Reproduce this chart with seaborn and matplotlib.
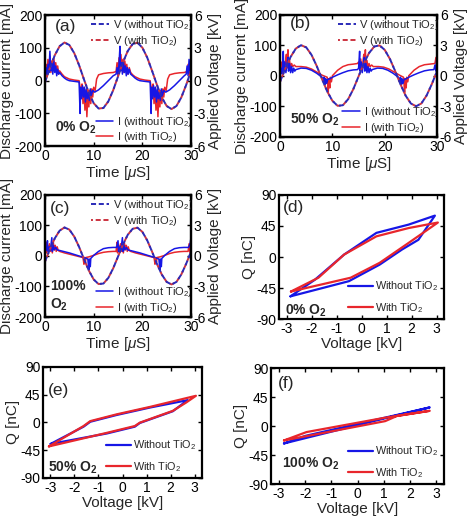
import matplotlib
matplotlib.use("Agg")
import matplotlib.pyplot as plt
import seaborn as sns

# ---------------- data ----------------
# applied voltage, kV, sampled every 1 us
t_volt = [0, 1, 2, 3, 4, 5, 6, 7, 8, 9, 10, 11, 12, 13, 14, 15, 16, 17, 18, 19, 20,
          21, 22, 23, 24, 25, 26, 27, 28, 29, 30]
volt_a = [-0.14, 1.17, 2.33, 3.16, 3.50, 3.27, 2.53, 1.42, 0.12, -1.11, -2.06, -2.55, -2.50,
          -1.90, -0.88, 0.39, 1.67, 2.72, 3.36, 3.48, 3.03, 2.12, 0.90, -0.39, -1.54, -2.32,
          -2.60, -2.32, -1.54, -0.39, 0.91]
volt_b = [-0.58, 0.71, 1.85, 2.67, 3.00, 2.78, 2.05, 0.95, -0.32, -1.54, -2.47, -2.96, -2.90,
          -2.31, -1.31, -0.06, 1.20, 2.23, 2.87, 2.98, 2.54, 1.64, 0.45, -0.83, -1.96, -2.73,
          -3.00, -2.73, -1.95, -0.83, 0.45]
volt_c = [-0.54, 0.66, 1.73, 2.49, 2.80, 2.59, 1.91, 0.89, -0.30, -1.43, -2.31, -2.76, -2.71,
          -2.16, -1.22, -0.06, 1.12, 2.08, 2.67, 2.78, 2.37, 1.53, 0.42, -0.78, -1.83, -2.55,
          -2.80, -2.55, -1.82, -0.77, 0.42]

# discharge current, mA  (0 % O2)
t_ia_wo = [0.0, 0.2, 0.4, 0.6, 0.8, 1.0, 1.2, 1.4, 1.6, 1.8, 2.0, 2.2, 2.4, 2.6, 2.8, 3.0,
           3.5, 4.0, 4.5, 5.0, 6.0, 7.0, 7.2, 7.3, 7.5, 7.7, 7.9, 8.1, 8.3, 8.5, 8.7, 8.9,
           9.1, 9.3, 9.5, 9.8, 10.2, 11.0, 12.0, 13.0, 14.0, 14.6,
           14.8, 15.0, 15.2, 15.4, 15.5, 15.7, 15.9, 16.1, 16.3, 16.5, 16.7, 16.9, 17.1, 17.3, 17.6,
           18.0, 18.5, 19.0, 19.5, 20.5, 21.6, 21.8, 21.9, 22.1, 22.3, 22.5, 22.7, 22.9, 23.1,
           23.3, 23.5, 23.7, 23.9, 24.1, 24.4, 24.8, 25.6, 26.6, 27.6, 28.6, 29.0, 29.2, 29.4,
           29.6, 29.8, 30.0]
ia_wo = [20, 40, 15, 50, 25, 90, 30, 55, 20, 60, 25, 45, 15, 35, 20, 25,
         15, 8, 3, 0, -2, -4, -100, -20, -55, -15, -50, -20, -65, -25, -55, -30,
         -60, -25, -45, -30, -35, -28, -15, 0, 15, 20,
         40, 15, 50, 105, 30, 55, 20, 60, 25, 45, 15, 40, 20, 35, 20,
         15, 8, 3, 0, -2, -4, -100, -20, -55, -15, -50, -20, -65, -25,
         -55, -30, -60, -25, -45, -30, -35, -28, -15, 0, 15, 20, 45, 15,
         65, 30, 40]
t_ia_w = [0.0, 0.2, 0.4, 0.6, 0.8, 1.0, 1.2, 1.4, 1.6, 1.8, 2.0, 2.2, 2.4, 2.6, 2.8, 3.0,
          3.5, 4.0, 5.0, 6.0, 7.0, 7.4, 7.6, 7.8, 8.0, 8.2, 8.4, 8.6, 8.8, 9.0, 9.2, 9.4,
          9.6, 9.8, 10.0, 10.3, 10.6, 11.0, 12.0, 13.0, 14.0, 14.6,
          14.8, 15.0, 15.2, 15.4, 15.6, 15.8, 16.0, 16.2, 16.4, 16.6, 16.8, 17.0, 17.3, 17.6,
          18.0, 18.5, 19.5, 20.5, 21.6, 22.0, 22.2, 22.4, 22.6, 22.8, 23.0, 23.2, 23.4, 23.6,
          23.8, 24.0, 24.2, 24.4, 24.6, 24.9, 25.2, 25.6, 26.6, 27.6, 28.6, 29.2, 29.4, 29.6,
          29.8, 30.0]
ia_w = [30, 50, 20, 65, 30, 75, 25, 60, 35, 70, 30, 55, 25, 45, 20, 30,
        20, 12, 5, 2, 0, -40, -10, -70, -20, -90, -30, -110, -40, -80, -30, -70,
        -25, -50, -20, -30, 5, 18, 22, 24, 25, 28,
        55, 25, 70, 35, 80, 30, 65, 25, 60, 30, 50, 20, 40, 25,
        18, 12, 5, 2, 0, -40, -10, -70, -20, -90, -30, -110, -40, -80,
        -30, -70, -25, -50, -20, -30, 5, 18, 22, 24, 25, 28, 50, 20,
        45, 30]

# discharge current, mA  (50 % O2)
t_ib_wo = [0.0, 0.2, 0.4, 0.6, 0.7, 0.9, 1.1, 1.3, 1.5, 1.6, 1.8, 2.0, 2.2, 2.4, 2.6, 2.8, 3.0,
           4.0, 5.0, 6.0, 7.0, 8.0, 8.3, 8.4, 8.6, 8.7, 8.9, 9.1, 9.5, 10.0, 11.0, 12.0, 13.0,
           14.0, 14.8,
           15.0, 15.2, 15.3, 15.5, 15.7, 15.9, 16.1, 16.2, 16.4, 16.6, 16.8, 17.0, 17.2, 17.4, 17.6,
           18.6, 19.6, 20.6, 21.6, 22.6, 22.9, 23.0, 23.2, 23.3, 23.5, 23.7, 24.1, 24.6, 25.6,
           26.6, 27.6, 28.6, 29.4, 29.6, 29.8, 30.0]
ib_wo = [10, 25, 5, 80, 15, 45, 10, 35, 60, 15, 40, 10, 30, 10, 25, 15, 20,
         25, 24, 18, 8, -5, -20, -5, -30, -10, -25, -12, -10, -5, 3, 10, 16,
         19, 20,
         25, 80, 15, 45, 10, 35, 60, 15, 40, 10, 30, 10, 25, 15, 20,
         25, 24, 18, 8, -5, -20, -5, -30, -10, -25, -12, -10, -5, 3,
         10, 16, 19, 20, 35, 15, 75]
t_ib_w = [0.0, 0.2, 0.4, 0.6, 0.8, 1.0, 1.2, 1.3, 1.5, 1.6, 1.8, 2.0, 2.2, 2.4, 2.7, 3.0,
          4.0, 5.0, 6.0, 7.0, 8.0, 9.0, 9.2, 9.3, 9.5, 9.6, 9.8, 10.0, 11.0, 12.0, 13.0, 14.0, 14.8,
          15.0, 15.2, 15.4, 15.6, 15.8, 16.0, 16.1, 16.3, 16.4, 16.6, 16.8, 17.0, 17.2, 17.5, 17.8,
          18.8, 19.8, 20.8, 21.8, 22.8, 23.6, 23.8, 23.9, 24.1, 24.2, 24.4, 24.6, 25.6, 26.6,
          27.6, 28.6, 29.6, 29.8, 30.0]
ib_w = [30, 45, 20, 50, 25, 40, 70, 25, 85, 30, 50, 25, 40, 30, 35, 30,
        30, 28, 22, 12, 2, -5, -55, -10, -40, -5, -20, 0, 18, 30, 36, 38, 40,
        45, 30, 55, 25, 40, 70, 25, 85, 30, 50, 25, 40, 30, 35, 30,
        30, 28, 22, 12, 2, -5, -55, -10, -40, -5, -20, 0, 18, 30,
        36, 38, 40, 60, 35]

# discharge current, mA  (100 % O2)
t_ic_wo = [0.0, 0.3, 0.5, 0.6, 0.9, 1.1, 1.4, 1.5, 1.7, 1.9, 2.2, 2.5, 3.0, 4.0, 5.0, 6.0,
           7.0, 8.0, 8.8, 9.0, 9.1, 9.3, 9.4, 10.0, 11.0, 12.0, 13.0, 14.0, 14.7,
           15.0, 15.1, 15.4, 15.6, 15.9, 16.0, 16.2, 16.4, 16.7, 17.0, 17.5, 18.5, 19.5, 20.5,
           21.5, 22.5, 23.4, 23.6, 23.7, 23.9, 24.0, 24.6, 25.6, 26.6, 27.6, 28.6, 29.5, 29.8, 30.0]
ic_wo = [15, 20, 50, 15, 30, 20, 60, 15, 35, 20, 28, 20, 18, 14, 10, 5,
         0, -5, -10, -45, -10, -35, -8, 2, 15, 24, 27, 28, 28,
         50, 15, 30, 20, 60, 15, 35, 20, 28, 20, 18, 14, 10, 5,
         0, -5, -10, -45, -10, -35, -8, 2, 15, 24, 27, 28, 28, 40, 60]
t_ic_w = [0.0, 0.2, 0.3, 0.5, 0.7, 0.9, 1.1, 1.3, 1.5, 1.7, 1.9, 2.1, 2.3, 2.5, 2.7, 3.0,
          4.0, 5.0, 6.0, 7.0, 7.8, 8.0, 8.1, 8.3, 8.4, 9.0, 10.0, 11.0, 12.0, 13.0, 14.0, 14.6,
          14.8, 14.9, 15.1, 15.3, 15.5, 15.7, 15.9, 16.1, 16.3, 16.5, 16.7, 16.9, 17.1, 17.3, 17.6,
          18.6, 19.6, 20.6, 21.6, 22.4, 22.6, 22.7, 22.9, 23.0, 23.6, 24.6, 25.6, 26.6, 27.6,
          28.6, 29.4, 29.6, 29.8, 30.0]
ic_w = [20, 45, 10, 35, 15, 40, 15, 30, 10, 45, 20, 35, 15, 30, 18, 15,
        10, 6, 2, -2, -5, -27, -5, -20, -5, -3, 2, 8, 12, 14, 15, 15,
        45, 10, 35, 15, 40, 15, 30, 10, 45, 20, 35, 15, 30, 18, 15,
        10, 6, 2, -2, -5, -27, -5, -20, -5, -3, 2, 8, 12, 14,
        15, 15, 40, 10, 30]

# Q-V Lissajous loops (kV, nC)
vd_wo = [-2.85, -1.86, -0.70, 0.59, 1.88, 2.93, 2.27, 1.62, 0.72, -0.51, -2.85]
qd_wo = [-57, -32.6, 3.6, 35, 47, 60, 25, 11, -11, -35, -57]
vd_w = [-2.83, -1.73, -0.70, 0.59, 1.88, 3.05, 1.88, 0.72, -0.44, -2.83]
qd_w = [-50, -30, 3.6, 30, 42, 50, 20.5, -8.4, -30, -50]

ve_wo = [-2.99, -1.62, -1.34, -0.24, 1.14, 2.71, 2.50, 2.09, 0.72, 0.51, -0.65, -2.99]
qe_wo = [-35, -7, 1, 12, 24, 36, 30, 18, -1, -7, -18, -35]
ve_w = [-3.06, -1.62, -1.34, -0.24, 1.14, 3.05, 2.64, 2.09, 0.72, 0.51, -0.65, -3.06]
qe_w = [-39, -6, 2, 13, 25, 43, 32, 18.6, -0.5, -6, -17, -39]

vf_wo = [-2.81, -2.0, 2.75, 1.2, -2.81]
qf_wo = [-26.7, -15, 29.3, 14, -26.7]
vf_w = [-2.81, -1.95, 1.0, 2.75, 1.5, 1.05, -2.81]
qf_w = [-22, -9, 13, 24, 16, 8, -22]

o2_labels = [r"0% O$_\mathbf{2}$", r"50% O$_\mathbf{2}$", "100%\nO$_\\mathbf{2}$",
             r"0% O$_\mathbf{2}$", r"50% O$_\mathbf{2}$", r"100% O$_\mathbf{2}$"]
panel_tags = ["(a)", "(b)", "(c)", "(d)", "(e)", "(f)"]

# ---------------- style ----------------
sns.set_theme(style="ticks")
plt.rcParams["font.family"] = ["Liberation Sans", "DejaVu Sans"]
plt.rcParams["mathtext.fontset"] = "custom"
plt.rcParams["mathtext.rm"] = "Liberation Sans"
plt.rcParams["mathtext.it"] = "Liberation Sans:italic"
plt.rcParams["mathtext.bf"] = "Liberation Sans:bold"
plt.rcParams["axes.unicode_minus"] = False

BLUE = "#1616e6"
RED = "#e8262c"
VBLUE = "#2a2ab8"
VRED = "#cc3340"


def frame(ax, top=True, right=True):
    for s in ax.spines.values():
        s.set_linewidth(1.6)
        s.set_color("black")
    ax.tick_params(direction="in", length=3, width=1, labelsize=10, pad=2,
                   top=top, right=right, colors="black")


def clip_legend(leg, ax):
    # the original legends run into the right frame and get cut there
    for txt in leg.get_texts():
        txt.set_clip_box(ax.bbox)
        txt.set_clip_on(True)


fig = plt.figure(figsize=(4.74, 5.24), dpi=100)

rects = [[0.095, 0.721, 0.308, 0.250],
         [0.591, 0.739, 0.331, 0.233],
         [0.095, 0.395, 0.308, 0.233],
         [0.589, 0.391, 0.348, 0.237],
         [0.091, 0.088, 0.335, 0.212],
         [0.572, 0.076, 0.365, 0.221]]

wave = [(volt_a, t_ia_wo, ia_wo, t_ia_w, ia_w),
        (volt_b, t_ib_wo, ib_wo, t_ib_w, ib_w),
        (volt_c, t_ic_wo, ic_wo, t_ic_w, ic_w)]
o2_pos = [(0.07, 0.14), (0.065, 0.14), (0.035, 0.03), (0.036, 0.07), (0.03, 0.09), (0.064, 0.18)]
tag_pos = [(0.07, 0.91), (0.065, 0.93), (0.035, 0.89), (0.02, 0.90), (0.03, 0.79), (0.04, 0.87)]
leg_kw = dict(frameon=False, fontsize=8, handlelength=1.6, handletextpad=0.35,
              labelspacing=0.15, borderaxespad=0)

for i, (volt, tw, iw, tt, it) in enumerate(wave):
    ax = fig.add_axes(rects[i])
    sns.lineplot(x=tt, y=it, ax=ax, color=RED, lw=1.1, sort=False, estimator=None,
                 label="I (with TiO$_2$)")
    sns.lineplot(x=tw, y=iw, ax=ax, color=BLUE, lw=1.1, sort=False, estimator=None,
                 label="I (without TiO$_2$)")
    ax.set_xlim(0, 30)
    ax.set_ylim(-200, 200)
    ax.set_xticks([0, 10, 20, 30])
    ax.set_yticks([-200, -100, 0, 100, 200])
    ax.set_xlabel(r"Time [$\mu$S]", fontsize=11, labelpad=1)
    ax.set_ylabel("Discharge current [mA]", fontsize=11, labelpad=0)
    frame(ax, top=True, right=False)
    h, l = ax.get_legend_handles_labels()
    leg = ax.legend(h[::-1], l[::-1], loc="lower right", bbox_to_anchor=(1.045, -0.02), **leg_kw)
    clip_legend(leg, ax)

    ax2 = ax.twinx()
    sns.lineplot(x=t_volt, y=volt, ax=ax2, color=VRED, lw=1.4,
                 linestyle=(1.6, (2.6, 1.4)), sort=False, estimator=None,
                 label="V (with TiO$_2$)")
    sns.lineplot(x=t_volt, y=volt, ax=ax2, color=VBLUE, lw=1.4,
                 linestyle=(0, (2.6, 1.4)), sort=False, estimator=None,
                 label="V (without TiO$_2$)")
    ax2.set_ylim(-6, 6)
    ax2.set_yticks([-6, -3, 0, 3, 6])
    ax2.set_ylabel("Applied Voltage [kV]", fontsize=11, labelpad=1)
    frame(ax2, top=True, right=True)
    h2, l2 = ax2.get_legend_handles_labels()
    leg2 = ax2.legend(h2[::-1], l2[::-1], loc="upper right", bbox_to_anchor=(1.045, 1.01),
                      **leg_kw)
    clip_legend(leg2, ax2)
    ax2.text(tag_pos[i][0], tag_pos[i][1], panel_tags[i], transform=ax2.transAxes,
             fontsize=12.5, va="center", ha="left")
    ax2.text(o2_pos[i][0], o2_pos[i][1], o2_labels[i], transform=ax2.transAxes,
             fontsize=10, fontweight="bold", va="bottom" if i == 2 else "center",
             ha="left", linespacing=1.3)

loops = [(vd_wo, qd_wo, vd_w, qd_w), (ve_wo, qe_wo, ve_w, qe_w), (vf_wo, qf_wo, vf_w, qf_w)]
for j, (vwo, qwo, vw, qw) in enumerate(loops):
    i = j + 3
    ax = fig.add_axes(rects[i])
    sns.lineplot(x=vwo, y=qwo, ax=ax, color=BLUE, lw=1.6, sort=False, estimator=None,
                 label="Without TiO$_2$")
    sns.lineplot(x=vw, y=qw, ax=ax, color=RED, lw=1.6, sort=False, estimator=None,
                 label="With TiO$_2$")
    ax.set_xlim(-3.3, 3.3)
    ax.set_ylim(-90, 90)
    ax.set_xticks([-3, -2, -1, 0, 1, 2, 3])
    ax.set_yticks([-90, -45, 0, 45, 90])
    ax.set_xlabel("Voltage [kV]", fontsize=11, labelpad=1)
    ax.set_ylabel("Q [nC]", fontsize=11, labelpad=0)
    frame(ax)
    ax.legend(loc="lower right", bbox_to_anchor=(0.99, 0.0), frameon=False,
              fontsize=7.8, handlelength=2.3, handletextpad=0.15, labelspacing=0.7,
              borderaxespad=0)
    ax.text(tag_pos[i][0], tag_pos[i][1], panel_tags[i], transform=ax.transAxes,
            fontsize=12.5, va="center", ha="left")
    ax.text(o2_pos[i][0], o2_pos[i][1], o2_labels[i], transform=ax.transAxes,
            fontsize=10, fontweight="bold", va="center", ha="left")

fig.savefig("out.png", dpi=100)
